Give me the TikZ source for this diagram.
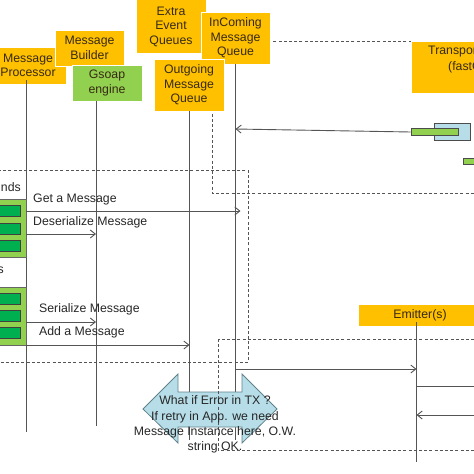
\documentclass[tikz,border=0pt]{standalone}
\usepackage{fontspec}
\setmainfont{Liberation Sans}
\usetikzlibrary{arrows.meta}
\definecolor{boxorange}{RGB}{255,192,0}
\definecolor{boxgreen}{RGB}{146,208,80}
\definecolor{bargreen}{RGB}{0,176,80}
\definecolor{noteblue}{RGB}{183,222,232}
\definecolor{noteedge}{RGB}{95,130,140}
\definecolor{linegray}{RGB}{85,85,85}
\definecolor{txtbrown}{RGB}{55,42,18}

\begin{document}
\begin{tikzpicture}[x=1pt,y=-1pt,
  actor/.style={fill=boxorange, draw=white, line width=0.4pt, inner sep=0pt, align=center,
                text=txtbrown, font=\fontsize{12.3}{14.5}\selectfont},
  engine/.style={actor, fill=boxgreen},
  life/.style={draw=linegray, line width=0.9pt},
  msg/.style={draw=linegray, line width=0.9pt, -{Straight Barb[length=5pt,width=8pt]}},
  frame/.style={draw=linegray, line width=0.9pt, dash pattern=on 3pt off 2.2pt},
  lbl/.style={inner sep=0pt, anchor=west, text=black!85, font=\fontsize{12.3}{14.5}\selectfont},
  cmdbox/.style={fill=boxgreen, draw=black!60, line width=0.6pt, inner sep=0pt},
  cmdbar/.style={fill=bargreen, draw=black!75, line width=0.6pt, inner sep=0pt,
                 minimum width=22pt, minimum height=11pt},
  tbar/.style={fill=boxgreen, draw=black!70, line width=0.6pt, inner sep=0pt}
]
\useasboundingbox (0,0) rectangle (474,474);
\clip (0,0) rectangle (474,474);

% Dashed frames behind everything
\draw[frame] (-5,170) rectangle (248,362);
\draw[frame] (212,41) rectangle (490,193);

% Transport side: buffer and bars
\node[fill=noteblue, draw=black!70, line width=0.6pt, inner sep=0pt,
      minimum width=36pt, minimum height=17pt] (buf) at (452,131.5) {};
\node[tbar, minimum width=47pt, minimum height=7pt] (tbarA) at (434.5,132) {};
\node[tbar, minimum width=16pt, minimum height=6pt] (tbarB) at (471,161) {};

% Actor boxes
\node[actor, minimum width=76pt, minimum height=37pt] (proc)  at (28,65.5)   {Message\\Processor};
\node[actor, minimum width=69pt, minimum height=36pt] (build) at (89.5,48)   {Message\\Builder};
\node[engine, minimum width=70pt, minimum height=36pt] (gsoap) at (107,83)   {Gsoap\\engine};
\node[actor, minimum width=70pt, minimum height=54pt] (extra) at (171,26.5)  {Extra\\Event\\Queues};
\node[actor, minimum width=69pt, minimum height=52pt] (inq)   at (235.5,38)  {InComing\\Message\\Queue};
\node[actor, minimum width=70pt, minimum height=52pt] (outq)  at (189,85)    {Outgoing\\Message\\Queue};
\node[actor, minimum width=70pt, minimum height=52pt] (trans) at (446,67)    {};
\node[lbl, text=txtbrown] (transA) at (428,52) {Transport};
\node[lbl, text=txtbrown] (transB) at (448,67) {(fastCGI)};
\node[actor, minimum width=124pt, minimum height=22pt] (emi)  at (420,315)   {Emitter(s)};

% Lifelines
\coordinate (procTop) at (26,80);    \coordinate (procEnd) at (26,432);
\coordinate (gsTop)   at (96,101);   \coordinate (gsEnd)   at (96,426);
\coordinate (outTop)  at (189.5,111);\coordinate (outEnd)  at (189.5,440);
\coordinate (incTop)  at (235.5,64); \coordinate (incEnd)  at (235.5,440);
\coordinate (emiTop)  at (416.5,322);\coordinate (emiEnd)  at (416.5,462);
\draw[life] (procTop) -- (procEnd);
\draw[life] (gsTop) -- (gsEnd);
\draw[life] (outTop) -- (outEnd);
\draw[life] (incTop) -- (incEnd);
\draw[life] (emiTop) -- (emiEnd);

% Command groups on the left
\node[cmdbox, minimum width=31pt, minimum height=58pt] (cmdA) at (10.5,228) {};
\foreach \y [count=\i] in {211,228.5,246}
  \node[cmdbar] (barA\i) at (9,\y) {};
\node[cmdbox, minimum width=31pt, minimum height=58pt] (cmdB) at (10.5,316) {};
\foreach \y [count=\i] in {298.5,315.5,332.5}
  \node[cmdbar] (barB\i) at (9,\y) {};
\node[lbl, anchor=east] (cmdAlbl) at (21,187) {nds};
\node[lbl, anchor=east] (cmdBlbl) at (4,270) {s};

% Note: double arrow
\filldraw[fill=noteblue, draw=noteedge, line width=0.8pt]
  (143,409) -- (178,374) -- (178,392) -- (242,392) -- (242,374) -- (277,409)
  -- (242,443) -- (242,427) -- (178,427) -- (178,443) -- cycle;

% Dashed frame over the note
\draw[frame] (218,339) rectangle (490,450);

% Messages
\draw[msg] (procTop |- 0,211) -- ([xshift=5pt]incTop |- 0,211);
\draw[msg] (procTop |- 0,234) -- (gsTop |- 0,234);
\draw[msg] (procTop |- 0,322) -- (gsTop |- 0,322);
\draw[msg] (procTop |- 0,345) -- (outTop |- 0,345);
\draw[msg] (tbarA.west) -- (incTop |- 0,129);
\draw[msg] (incTop |- 0,369) -- (emiTop |- 0,369);
\draw[life] (emiTop |- 0,386) -- (480,386);
\draw[msg] (480,415) -- (emiTop |- 0,415);

\node[lbl] (getlbl)  at (33,199) {Get a Message};
\node[lbl] (deslbl)  at (33,222) {Deserialize Message};
\node[lbl] (serlbl)  at (39,309) {Serialize Message};
\node[lbl] (addlbl)  at (39,332) {Add a Message};

% Text of the note
\node[inner sep=0pt, align=center, text=black!85, font=\fontsize{12.3}{15.2}\selectfont]
  (note) at (215,424.5) {What if Error in TX ?\\If retry in App. we need\\Message Instance here, O.W.\\string OK.};

\end{tikzpicture}
\end{document}
